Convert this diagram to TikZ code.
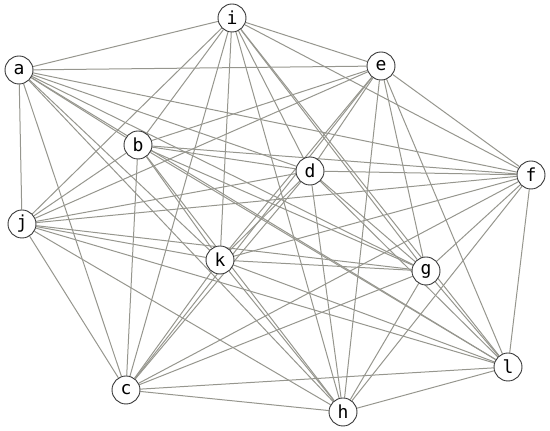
\documentclass[tikz,border=0pt]{standalone}
\usepackage{fontspec}
\setmonofont{DejaVu Sans Mono}
\usetikzlibrary{backgrounds}
\definecolor{edgegray}{RGB}{150,150,142}
\definecolor{rimgray}{RGB}{55,55,55}

\begin{document}
\begin{tikzpicture}[x=1pt, y=1pt,
    vertex/.style={circle, draw=rimgray, fill=white, line width=0.9pt, minimum size=28pt, inner sep=0pt, font=\ttfamily\fontsize{18}{18}\selectfont},
    every edge/.style={draw=edgegray, line width=1pt}]
  \useasboundingbox (0,0) rectangle (550,431);
  \node[vertex] (a) at (19,361) {a};
  \node[vertex] (i) at (232,413) {i};
  \node[vertex] (e) at (381,365) {e};
  \node[vertex] (b) at (138,286) {b};
  \node[vertex] (d) at (310,260) {d};
  \node[vertex] (f) at (531,256) {f};
  \node[vertex] (j) at (22,207) {j};
  \node[vertex] (k) at (220,171) {k};
  \node[vertex] (g) at (426,160) {g};
  \node[vertex] (c) at (126,41) {c};
  \node[vertex] (h) at (343,19) {h};
  \node[vertex] (l) at (508,64) {l};
  % every pair is joined
  \begin{pgfonlayer}{background}
    \path (a) edge (b) edge (c) edge (d) edge (e) edge (f) edge (g) edge (h) edge (i) edge (j) edge (k) edge (l);
    \path (b) edge (c) edge (d) edge (e) edge (f) edge (g) edge (h) edge (i) edge (j) edge (k) edge (l);
    \path (c) edge (d) edge (e) edge (f) edge (g) edge (h) edge (i) edge (j) edge (k) edge (l);
    \path (d) edge (e) edge (f) edge (g) edge (h) edge (i) edge (j) edge (k) edge (l);
    \path (e) edge (f) edge (g) edge (h) edge (i) edge (j) edge (k) edge (l);
    \path (f) edge (g) edge (h) edge (i) edge (j) edge (k) edge (l);
    \path (g) edge (h) edge (i) edge (j) edge (k) edge (l);
    \path (h) edge (i) edge (j) edge (k) edge (l);
    \path (i) edge (j) edge (k) edge (l);
    \path (j) edge (k) edge (l);
    \path (k) edge (l);
  \end{pgfonlayer}
\end{tikzpicture}
\end{document}
